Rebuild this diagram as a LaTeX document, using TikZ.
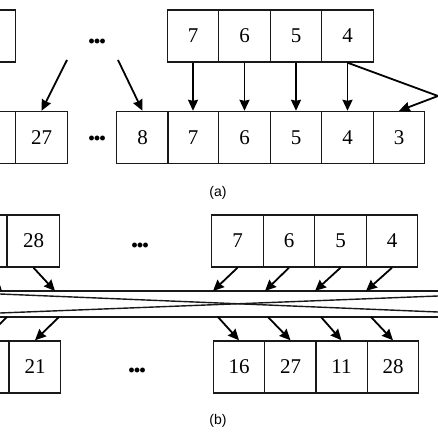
\documentclass[tikz,border=0pt]{standalone}
\usepackage{fontspec}
\setmainfont{Liberation Serif}
\newfontfamily\labelfont{Liberation Sans}
\usetikzlibrary{arrows.meta}
\begin{document}
\begin{tikzpicture}[x=1pt,y=-1pt,
  cell/.style={draw=black!90,line width=1.4pt,minimum width=51.5pt,minimum height=52pt,inner sep=0pt,font=\fontsize{21}{21}\selectfont},
  dots/.style={inner sep=0pt,anchor=base,font=\fontsize{30}{30}\selectfont\bfseries},
  arr/.style={draw=black,line width=1.8pt,-{Stealth[length=11pt,width=10pt,inset=1pt]}},
  ln/.style={draw=black!90,line width=1.4pt},
  captxt/.style={inner sep=0pt,font=\labelfont\fontsize{14}{14}\selectfont}]
\useasboundingbox (0,0) rectangle (438,438);
\clip (0,0) rectangle (438,438);
% ---------- (a) top row
\node[cell] (aTL) at (-10,36) {};
\node[cell] (aT7) at (193,36) {7};
\node[cell] (aT6) at (244.5,36) {6};
\node[cell] (aT5) at (296,36) {5};
\node[cell] (aT4) at (347.5,36) {4};
\node[dots] (aTd) at (97,43.5) {.\kern-2pt.\kern-2pt.};
% ---------- (a) bottom row
\node[cell] (aBL) at (-10,137.5) {};
\node[cell] (aB27) at (41.5,137.5) {27};
\node[dots] (aBd) at (97,140.5) {.\kern-2pt.\kern-2pt.};
\node[cell] (aB8) at (142.5,137.5) {8};
\node[cell] (aB7) at (193,137.5) {7};
\node[cell] (aB6) at (244.5,137.5) {6};
\node[cell] (aB5) at (296,137.5) {5};
\node[cell] (aB4) at (347.5,137.5) {4};
\node[cell] (aB3) at (399,137.5) {3};
% arrows (a)
\coordinate (aS1) at (67,60);
\coordinate (aS2) at (118,60);
\coordinate (aV) at (438,96);
\draw[arr] (aS1) -- (aB27.north);
\draw[arr] (aS2) -- (aB8.north);
\draw[arr] (aT7.south) -- (aB7.north);
\draw[arr] (aT6.south) -- (aB6.north);
\draw[arr] (aT5.south) -- (aB5.north);
\draw[arr] (aT4.south) -- (aB4.north);
\draw[ln,line width=1.8pt,draw=black] (aT4.south) -- (aV);
\draw[arr] (aV) -- (aB3.north);
\node[captxt] (capa) at (218,193) {(a)};
% ---------- (b) top row
\node[cell] (bTL) at (-19.5,241) {};
\node[cell] (bT28) at (33.5,241) {28};
\node[dots] (bTd) at (140,247.5) {.\kern-2pt.\kern-2pt.};
\node[cell] (bT7) at (237.5,241) {7};
\node[cell] (bT6) at (289,241) {6};
\node[cell] (bT5) at (340.5,241) {5};
\node[cell] (bT4) at (392,241) {4};
% ---------- (b) bottom row
\node[cell] (bBL) at (-17,367) {};
\node[cell] (bB21) at (35,367) {21};
\node[dots] (bBd) at (137,372.5) {.\kern-2pt.\kern-2pt.};
\node[cell] (bB16) at (239,367) {16};
\node[cell] (bB27) at (290.5,367) {27};
\node[cell] (bB11) at (341.5,367) {11};
\node[cell] (bB28) at (393,367) {28};
% bands
\coordinate (u0) at (-5,291); \coordinate (u1) at (443,291);
\coordinate (d0) at (-5,317); \coordinate (d1) at (443,317);
\coordinate (c1a) at (0,294); \coordinate (c1b) at (438,312);
\coordinate (c2a) at (0,313); \coordinate (c2b) at (438,296);
\draw[ln] (u0) -- (u1);
\draw[ln] (d0) -- (d1);
\draw[ln] (c1a) -- (c1b);
\draw[ln] (c2a) -- (c2b);
% top arrows (b)
\coordinate (tL) at (2,291);
\coordinate (t28) at (55,291);
\coordinate (t7) at (213,291);
\coordinate (t6) at (265,291);
\coordinate (t5) at (315,291);
\coordinate (t4) at (366,291);
\draw[arr] (bTL.south) -- (tL);
\draw[arr] (bT28.south) -- (t28);
\draw[arr] (bT7.south) -- (t7);
\draw[arr] (bT6.south) -- (t6);
\draw[arr] (bT5.south) -- (t5);
\draw[arr] (bT4.south) -- (t4);
% bottom arrows (b)
\coordinate (sL) at (7,317);
\coordinate (s21) at (59,317);
\coordinate (s16) at (218,317);
\coordinate (s27) at (268,317);
\coordinate (s11) at (321,317);
\coordinate (s28) at (371,317);
\draw[arr] (sL) -- (bBL.north);
\draw[arr] (s21) -- (bB21.north);
\draw[arr] (s16) -- (bB16.north);
\draw[arr] (s27) -- (bB27.north);
\draw[arr] (s11) -- (bB11.north);
\draw[arr] (s28) -- (bB28.north);
\node[captxt] (capb) at (218,421) {(b)};
\end{tikzpicture}
\end{document}
